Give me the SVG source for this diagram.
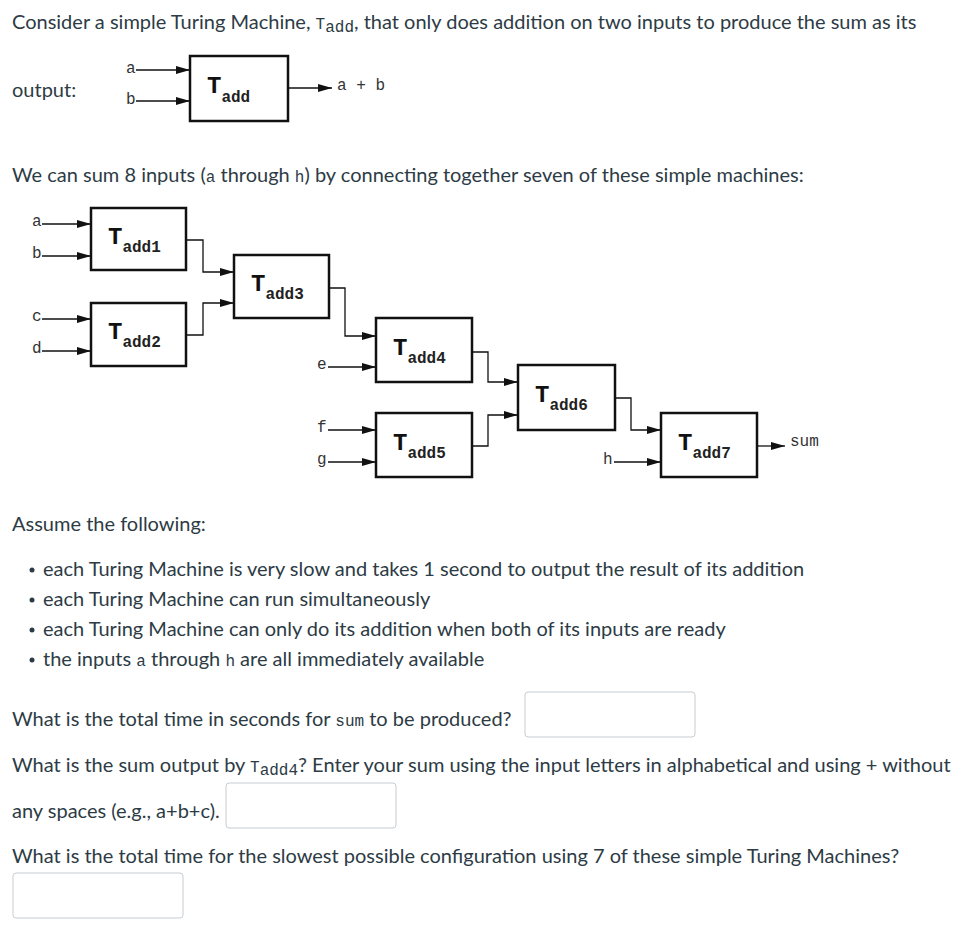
<svg xmlns="http://www.w3.org/2000/svg" width="970" height="926" viewBox="0 0 970 926">
<style>
.txt{font-family:Lato,"Liberation Sans",sans-serif;font-size:20px;fill:#2d3b45}
.code{font-family:"Courier New","Liberation Mono",monospace;font-size:16px}
.lbl{font-family:"Courier New","Liberation Mono",monospace;font-size:16px;fill:#333}
.box{fill:#fff;stroke:#111;stroke-width:2.5}
.w{fill:none;stroke:#111;stroke-width:1.3}
.big{font-family:"Courier New","Liberation Mono",monospace;font-weight:bold;font-size:24px;fill:#111}
.sub{font-family:"Courier New","Liberation Mono",monospace;font-weight:bold;font-size:16px;fill:#222}
.in{fill:#fff;stroke:#c7cdd1;stroke-width:1}
</style>
<defs>
<marker id="ah" markerWidth="14" markerHeight="8" refX="14" refY="4" orient="auto" markerUnits="userSpaceOnUse"><path d="M0,0 L14,4 L0,8 Z" fill="#111"/></marker>
</defs>
<text class="txt" x="12" y="29">Consider a simple Turing Machine, <tspan class="code">T</tspan><tspan class="code" font-size="12" dy="3">add</tspan><tspan dy="-3">, that only does addition on two inputs to produce the sum as its</tspan></text>
<text class="txt" x="12" y="97">output:</text>
<text class="txt" x="12" y="182">We can sum 8 inputs (<tspan class="code">a</tspan> through <tspan class="code">h</tspan>) by connecting together seven of these simple machines:</text>

<g id="connectors">
<path class="w" marker-end="url(#ah)" d="M136,70 H190"/>
<path class="w" marker-end="url(#ah)" d="M136,101 H190"/>
<path class="w" marker-end="url(#ah)" d="M288,88 H332"/>
<path class="w" marker-end="url(#ah)" d="M42,224 H91"/>
<path class="w" marker-end="url(#ah)" d="M42,256 H91"/>
<path class="w" marker-end="url(#ah)" d="M42,319 H91"/>
<path class="w" marker-end="url(#ah)" d="M42,351 H91"/>
<path class="w" marker-end="url(#ah)" d="M186,240 H203 V272 H234"/>
<path class="w" marker-end="url(#ah)" d="M186,335 H203 V303 H234"/>
<path class="w" marker-end="url(#ah)" d="M329,288 H345 V336 H376"/>
<path class="w" marker-end="url(#ah)" d="M328,367 H376"/>
<path class="w" marker-end="url(#ah)" d="M328,430 H376"/>
<path class="w" marker-end="url(#ah)" d="M328,462 H376"/>
<path class="w" marker-end="url(#ah)" d="M472,352 H488 V382 H518"/>
<path class="w" marker-end="url(#ah)" d="M472,446 H488 V415 H518"/>
<path class="w" marker-end="url(#ah)" d="M615,398 H631 V430 H661"/>
<path class="w" marker-end="url(#ah)" d="M614,462 H661"/>
<path class="w" marker-end="url(#ah)" d="M757,446 H785"/>
</g>
<g class="lbl">
<text x="126" y="73">a</text><text x="126" y="104">b</text><text x="337" y="90">a + b</text>
<text x="32" y="226">a</text><text x="32" y="258">b</text><text x="32" y="321">c</text><text x="32" y="353">d</text>
<text x="317" y="369">e</text><text x="317" y="432">f</text><text x="317" y="464">g</text><text x="603" y="464">h</text>
<text x="790" y="446">sum</text>
</g>

<g id="tadd"><rect class="box" x="190" y="56" width="98" height="65"/><text x="207" y="93" class="big">T<tspan class="sub" dy="9">add</tspan></text></g>
<g id="tadd1"><rect class="box" x="91" y="208" width="95" height="62"/><text x="108" y="244" class="big">T<tspan class="sub" dy="8">add1</tspan></text></g>
<g id="tadd2"><rect class="box" x="91" y="303" width="95" height="63"/><text x="108" y="339" class="big">T<tspan class="sub" dy="8">add2</tspan></text></g>
<g id="tadd3"><rect class="box" x="234" y="255" width="95" height="63"/><text x="251" y="291" class="big">T<tspan class="sub" dy="8">add3</tspan></text></g>
<g id="tadd4"><rect class="box" x="376" y="318" width="96" height="64"/><text x="393" y="355" class="big">T<tspan class="sub" dy="8">add4</tspan></text></g>
<g id="tadd5"><rect class="box" x="376" y="413" width="96" height="64"/><text x="393" y="450" class="big">T<tspan class="sub" dy="8">add5</tspan></text></g>
<g id="tadd6"><rect class="box" x="518" y="365" width="97" height="65"/><text x="535" y="402" class="big">T<tspan class="sub" dy="8">add6</tspan></text></g>
<g id="tadd7"><rect class="box" x="661" y="413" width="96" height="64"/><text x="678" y="450" class="big">T<tspan class="sub" dy="8">add7</tspan></text></g>

<text class="txt" x="12" y="531">Assume the following:</text>
<g class="txt">
<circle cx="32" cy="570" r="2.5" fill="#2d3b45"/><text x="43" y="576">each Turing Machine is very slow and takes 1 second to output the result of its addition</text>
<circle cx="32" cy="600" r="2.5" fill="#2d3b45"/><text x="43" y="606">each Turing Machine can run simultaneously</text>
<circle cx="32" cy="630" r="2.5" fill="#2d3b45"/><text x="43" y="636">each Turing Machine can only do its addition when both of its inputs are ready</text>
<circle cx="32" cy="660" r="2.5" fill="#2d3b45"/><text x="43" y="666">the inputs <tspan class="code">a</tspan> through <tspan class="code">h</tspan> are all immediately available</text>
</g>
<text class="txt" x="12" y="726">What is the total time in seconds for <tspan class="code">sum</tspan> to be produced?</text>
<rect class="in" x="525" y="692" width="170" height="45" rx="3"/>
<text class="txt" x="12" y="772">What is the sum output by <tspan class="code">T</tspan><tspan class="code" font-size="12" dy="3">add4</tspan><tspan dy="-3">? Enter your sum using the input letters in alphabetical and using + without</tspan></text>
<text class="txt" x="12" y="818">any spaces (e.g., a+b+c).</text>
<rect class="in" x="226" y="783" width="170" height="45" rx="3"/>
<text class="txt" x="12" y="863">What is the total time for the slowest possible configuration using 7 of these simple Turing Machines?</text>
<rect class="in" x="13" y="873" width="170" height="45" rx="3"/>
</svg>
